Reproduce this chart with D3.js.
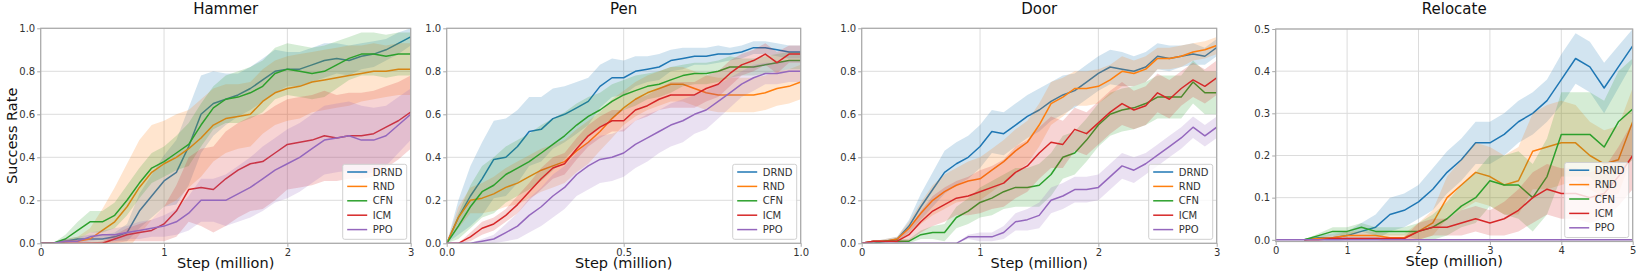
<!DOCTYPE html>
<html lang="en">
<head>
<meta charset="UTF-8">
<title>Success rate curves</title>
<script src="https://cdn.jsdelivr.net/npm/d3@7"></script>
<style>
  body { margin: 0; background: #fff; }
  svg { display: block; font-family: "DejaVu Sans", sans-serif; }
</style>
</head>
<body>
<svg id="chart" width="1641" height="279"></svg>
<script>
// methods, in plotting order
var methods = ["DRND", "RND", "CFN", "ICM", "PPO"];
var colors = ["#1f77b4", "#ff7f0e", "#2ca02c", "#d62728", "#9467bd"];

// ---- Hammer ----
var hammerSteps = [0,0.1,0.2,0.3,0.4,0.5,0.6,0.7,0.8,0.9,1,1.1,1.2,1.3,1.4,1.5,1.6,1.7,1.8,1.9,2,2.1,2.2,2.3,2.4,2.5,2.6,2.7,2.8,2.9,3];
var hammerMean = [
  [0,0,0.01,0.02,0.02,0.02,0.03,0.05,0.15,0.22,0.29,0.33,0.45,0.6,0.65,0.67,0.69,0.72,0.76,0.8,0.81,0.81,0.83,0.85,0.86,0.85,0.87,0.88,0.9,0.93,0.96],
  [0,0,0.01,0.01,0.02,0.06,0.1,0.17,0.26,0.33,0.37,0.4,0.44,0.49,0.55,0.58,0.59,0.6,0.66,0.7,0.72,0.73,0.75,0.76,0.77,0.78,0.79,0.8,0.8,0.81,0.81],
  [0,0,0.02,0.06,0.1,0.1,0.13,0.2,0.28,0.35,0.38,0.42,0.46,0.55,0.63,0.67,0.68,0.7,0.73,0.79,0.81,0.8,0.79,0.8,0.83,0.86,0.88,0.88,0.87,0.88,0.88],
  [0,0,0,0,0,0,0.02,0.04,0.05,0.06,0.09,0.15,0.25,0.26,0.25,0.3,0.34,0.37,0.38,0.42,0.46,0.47,0.48,0.5,0.49,0.5,0.5,0.51,0.54,0.57,0.61],
  [0,0,0.01,0.01,0.03,0.04,0.04,0.05,0.06,0.07,0.08,0.1,0.14,0.2,0.2,0.2,0.23,0.26,0.3,0.34,0.37,0.4,0.44,0.48,0.49,0.5,0.48,0.48,0.5,0.55,0.6]
];
var hammerSpread = [
  [0,0,0.01,0.01,0.02,0.02,0.02,0.04,0.08,0.1,0.12,0.15,0.18,0.18,0.15,0.12,0.1,0.1,0.1,0.1,0.08,0.08,0.08,0.08,0.07,0.07,0.06,0.06,0.05,0.05,0.04],
  [0,0,0.01,0.02,0.05,0.1,0.16,0.2,0.22,0.22,0.2,0.2,0.18,0.18,0.17,0.16,0.15,0.15,0.15,0.15,0.15,0.15,0.14,0.14,0.14,0.14,0.13,0.13,0.12,0.12,0.12],
  [0,0,0.02,0.04,0.05,0.05,0.06,0.07,0.07,0.07,0.07,0.08,0.1,0.1,0.1,0.11,0.12,0.12,0.12,0.12,0.12,0.12,0.12,0.12,0.11,0.1,0.1,0.1,0.1,0.1,0.1],
  [0,0,0,0,0,0.01,0.02,0.03,0.04,0.05,0.08,0.12,0.15,0.18,0.2,0.22,0.22,0.22,0.22,0.22,0.21,0.21,0.21,0.21,0.2,0.2,0.2,0.2,0.19,0.18,0.17],
  [0,0,0.01,0.01,0.02,0.02,0.03,0.03,0.04,0.04,0.05,0.06,0.08,0.1,0.1,0.12,0.13,0.14,0.15,0.15,0.16,0.16,0.16,0.16,0.16,0.16,0.16,0.15,0.14,0.13,0.12]
];

// ---- Pen ----
var penSteps = [0,0.033,0.067,0.1,0.133,0.167,0.2,0.233,0.267,0.3,0.333,0.367,0.4,0.433,0.467,0.5,0.533,0.567,0.6,0.633,0.667,0.7,0.733,0.767,0.8,0.833,0.867,0.9,0.933,0.967,1];
var penMean = [
  [0,0.12,0.22,0.3,0.39,0.4,0.45,0.52,0.53,0.58,0.6,0.63,0.66,0.73,0.77,0.77,0.8,0.81,0.82,0.85,0.86,0.87,0.87,0.88,0.88,0.89,0.91,0.91,0.9,0.89,0.89],
  [0,0.12,0.2,0.21,0.23,0.26,0.28,0.31,0.34,0.36,0.38,0.43,0.47,0.52,0.58,0.63,0.67,0.7,0.72,0.74,0.74,0.72,0.7,0.69,0.69,0.69,0.69,0.7,0.72,0.73,0.75],
  [0,0.08,0.17,0.24,0.27,0.32,0.35,0.38,0.42,0.46,0.5,0.55,0.59,0.62,0.66,0.69,0.71,0.73,0.74,0.76,0.78,0.79,0.79,0.8,0.82,0.82,0.82,0.83,0.84,0.85,0.85],
  [0,0,0.03,0.07,0.09,0.13,0.18,0.24,0.3,0.35,0.37,0.44,0.5,0.54,0.57,0.57,0.62,0.64,0.67,0.69,0.69,0.69,0.72,0.74,0.79,0.83,0.85,0.88,0.84,0.88,0.88],
  [0,0,0,0.01,0.02,0.05,0.08,0.13,0.17,0.22,0.26,0.32,0.36,0.39,0.4,0.42,0.46,0.49,0.52,0.55,0.57,0.6,0.62,0.66,0.7,0.74,0.77,0.79,0.79,0.8,0.8]
];
var penSpread = [
  [0,0.08,0.14,0.17,0.18,0.18,0.17,0.16,0.15,0.14,0.13,0.12,0.11,0.1,0.09,0.08,0.07,0.06,0.06,0.05,0.05,0.04,0.04,0.04,0.03,0.03,0.03,0.03,0.03,0.03,0.03],
  [0,0.05,0.06,0.07,0.08,0.09,0.1,0.1,0.1,0.1,0.1,0.1,0.1,0.09,0.09,0.08,0.08,0.08,0.08,0.08,0.08,0.08,0.08,0.08,0.08,0.08,0.08,0.08,0.08,0.08,0.08],
  [0,0.06,0.1,0.12,0.13,0.13,0.13,0.13,0.13,0.12,0.11,0.1,0.09,0.08,0.08,0.07,0.07,0.06,0.06,0.06,0.05,0.05,0.05,0.05,0.05,0.04,0.04,0.04,0.04,0.04,0.04],
  [0,0,0.02,0.03,0.03,0.03,0.04,0.04,0.05,0.05,0.05,0.05,0.05,0.05,0.05,0.05,0.05,0.05,0.05,0.06,0.06,0.06,0.06,0.06,0.06,0.05,0.05,0.05,0.05,0.04,0.04],
  [0,0,0,0.01,0.02,0.04,0.06,0.08,0.09,0.1,0.1,0.1,0.11,0.11,0.11,0.11,0.11,0.11,0.1,0.1,0.1,0.09,0.09,0.08,0.07,0.06,0.06,0.05,0.05,0.05,0.05]
];

// ---- Door ----
var doorSteps = hammerSteps.slice();
var doorMean = [
  [0,0.01,0.01,0.02,0.08,0.17,0.25,0.33,0.37,0.4,0.45,0.52,0.51,0.55,0.59,0.62,0.66,0.69,0.71,0.75,0.79,0.82,0.81,0.8,0.82,0.87,0.86,0.87,0.88,0.87,0.91],
  [0,0.01,0.01,0.02,0.07,0.14,0.2,0.24,0.27,0.29,0.3,0.34,0.38,0.43,0.47,0.55,0.65,0.68,0.72,0.72,0.73,0.76,0.8,0.79,0.81,0.86,0.86,0.87,0.89,0.9,0.92],
  [0,0,0.01,0.01,0.01,0.04,0.05,0.05,0.12,0.15,0.19,0.21,0.24,0.26,0.26,0.27,0.32,0.4,0.42,0.48,0.55,0.6,0.62,0.63,0.65,0.68,0.68,0.68,0.75,0.7,0.7],
  [0,0.01,0.01,0.01,0.04,0.1,0.15,0.18,0.21,0.22,0.24,0.26,0.28,0.33,0.36,0.42,0.47,0.46,0.53,0.51,0.56,0.61,0.65,0.62,0.64,0.7,0.67,0.72,0.76,0.73,0.77],
  [0,0,0,0,0,0,0,0,0,0.03,0.03,0.03,0.05,0.1,0.11,0.13,0.2,0.22,0.25,0.25,0.26,0.31,0.36,0.34,0.37,0.41,0.45,0.49,0.54,0.5,0.54]
];
var doorSpread = [
  [0,0,0.01,0.01,0.03,0.06,0.08,0.1,0.1,0.1,0.1,0.1,0.1,0.1,0.1,0.1,0.09,0.09,0.08,0.08,0.08,0.08,0.08,0.07,0.07,0.06,0.06,0.05,0.05,0.04,0.04],
  [0,0,0.01,0.01,0.03,0.05,0.07,0.08,0.08,0.09,0.1,0.1,0.1,0.1,0.1,0.1,0.1,0.09,0.08,0.08,0.08,0.07,0.07,0.06,0.06,0.05,0.05,0.05,0.04,0.04,0.04],
  [0,0,0,0.01,0.01,0.02,0.03,0.04,0.05,0.06,0.07,0.08,0.08,0.09,0.09,0.1,0.1,0.1,0.1,0.1,0.1,0.1,0.1,0.1,0.1,0.1,0.1,0.1,0.1,0.1,0.1],
  [0,0,0,0.01,0.03,0.05,0.07,0.08,0.08,0.09,0.1,0.1,0.11,0.12,0.12,0.12,0.12,0.11,0.1,0.1,0.1,0.1,0.1,0.09,0.09,0.09,0.09,0.08,0.08,0.08,0.08],
  [0,0,0,0,0,0,0,0,0,0.01,0.02,0.02,0.03,0.04,0.05,0.06,0.06,0.06,0.06,0.06,0.06,0.06,0.06,0.06,0.05,0.05,0.05,0.05,0.05,0.05,0.05]
];

// ---- Relocate ----
var relocateSteps = [0,0.2,0.4,0.6,0.8,1,1.2,1.4,1.6,1.8,2,2.2,2.4,2.6,2.8,3,3.2,3.4,3.6,3.8,4,4.2,4.4,4.6,4.8,5];
var relocateMean = [
  [null,null,0,0.005,0.005,0.01,0.02,0.03,0.06,0.07,0.09,0.12,0.16,0.19,0.23,0.23,0.25,0.28,0.3,0.33,0.38,0.43,0.41,0.36,0.41,0.46],
  [null,null,0,0.003,0.005,0.01,0.01,0.01,0.005,0.005,0.02,0.04,0.1,0.13,0.16,0.15,0.13,0.14,0.21,0.22,0.23,0.23,0.2,0.18,0.19,0.28],
  [null,null,0,0.01,0.02,0.02,0.03,0.02,0.02,0.02,0.02,0.03,0.05,0.08,0.1,0.14,0.13,0.13,0.1,0.15,0.25,0.25,0.25,0.22,0.28,0.31],
  [null,null,0,0,0.003,0.003,0.003,0.003,0.003,0.003,0.02,0.03,0.03,0.04,0.05,0.04,0.05,0.07,0.1,0.12,0.11,0.11,0.1,0.11,0.15,0.2],
  [0,0,0,0,0,0,0,0,0,0,0,0,0,0,0,0,0,0,0,0,0,0,0,0,0,0]
];
var relocateSpread = [
  [0,0,0,0.005,0.01,0.01,0.02,0.03,0.04,0.04,0.04,0.05,0.05,0.05,0.05,0.05,0.05,0.05,0.05,0.05,0.06,0.06,0.06,0.06,0.05,0.04],
  [0,0,0,0.003,0.005,0.01,0.01,0.01,0.01,0.01,0.02,0.03,0.05,0.06,0.07,0.07,0.07,0.08,0.09,0.1,0.1,0.09,0.08,0.08,0.08,0.08],
  [0,0,0,0.005,0.01,0.01,0.01,0.01,0.01,0.01,0.02,0.03,0.04,0.05,0.06,0.06,0.07,0.08,0.08,0.09,0.1,0.1,0.1,0.11,0.12,0.12],
  [0,0,0,0,0.003,0.003,0.003,0.003,0.003,0.003,0.02,0.02,0.02,0.03,0.03,0.03,0.04,0.05,0.06,0.06,0.06,0.06,0.06,0.06,0.07,0.08],
  [0,0,0,0,0,0,0,0,0,0,0,0,0,0,0,0,0,0,0,0,0,0,0,0,0,0]
];

// tick labels
var xTicks3 = [0, 1, 2, 3];
var xTicksPen = [0, 0.5, 1];
var xTicks5 = [0, 1, 2, 3, 4, 5];
var yTicks1 = [0, 0.2, 0.4, 0.6, 0.8, 1.0];
var yTicks05 = [0, 0.1, 0.2, 0.3, 0.4, 0.5];

var panels = [
  {title: "Hammer", steps: hammerSteps, mean: hammerMean, spread: hammerSpread,
   xDomain: [0, 3], yDomain: [0, 1], xTicks: xTicks3, xFmt: d3.format("d"), yTicks: yTicks1,
   box: [40.7, 410.7, 28.3, 243.3]},
  {title: "Pen", steps: penSteps, mean: penMean, spread: penSpread,
   xDomain: [0, 1], yDomain: [0, 1], xTicks: xTicksPen, xFmt: d3.format(".1f"), yTicks: yTicks1,
   box: [446.7, 800.7, 28.3, 243.3]},
  {title: "Door", steps: doorSteps, mean: doorMean, spread: doorSpread,
   xDomain: [0, 3], yDomain: [0, 1], xTicks: xTicks3, xFmt: d3.format("d"), yTicks: yTicks1,
   box: [861.7, 1216.7, 28.3, 243.3]},
  {title: "Relocate", steps: relocateSteps, mean: relocateMean, spread: relocateSpread,
   xDomain: [0, 5], yDomain: [-0.004, 0.5], xTicks: xTicks5, xFmt: d3.format("d"), yTicks: yTicks05,
   box: [1275.7, 1632.7, 29, 241.5]}
];

var svg = d3.select("#chart");
svg.append("rect").attr("width", 1641).attr("height", 279).attr("fill", "#fff");

panels.forEach(function(p, pi) {
  var left = p.box[0], right = p.box[1], top = p.box[2], bottom = p.box[3];
  var x = d3.scaleLinear().domain(p.xDomain).range([left, right]);
  var y = d3.scaleLinear().domain(p.yDomain).range([bottom, top]);
  var g = svg.append("g");

  var clipId = "clip" + pi;
  svg.append("clipPath").attr("id", clipId)
    .append("rect").attr("x", left).attr("y", top)
    .attr("width", right - left).attr("height", bottom - top);

  // grid
  g.selectAll(".gx").data(p.xTicks).join("line")
    .attr("x1", d => x(d)).attr("x2", d => x(d))
    .attr("y1", top).attr("y2", bottom)
    .attr("stroke", "#dcdcdc").attr("stroke-width", 1);
  g.selectAll(".gy").data(p.yTicks).join("line")
    .attr("y1", d => y(d)).attr("y2", d => y(d))
    .attr("x1", left).attr("x2", right)
    .attr("stroke", "#dcdcdc").attr("stroke-width", 1);

  var plot = g.append("g").attr("clip-path", "url(#" + clipId + ")");

  methods.forEach(function(m, mi) {
    var pts = p.steps.map(function(s, i) {
      return {x: s, m: p.mean[mi][i], s: p.spread[mi][i]};
    });
    var area = d3.area()
      .defined(d => d.m !== null)
      .x(d => x(d.x))
      .y0(d => y(d.m - d.s))
      .y1(d => y(d.m + d.s));
    var line = d3.line()
      .defined(d => d.m !== null)
      .x(d => x(d.x))
      .y(d => y(d.m));
    plot.append("path").datum(pts)
      .attr("d", area).attr("fill", colors[mi]).attr("fill-opacity", 0.2);
    plot.append("path").datum(pts)
      .attr("d", line).attr("fill", "none")
      .attr("stroke", colors[mi]).attr("stroke-width", 1.5)
      .attr("stroke-linejoin", "round");
  });

  // frame
  g.append("rect").attr("x", left).attr("y", top)
    .attr("width", right - left).attr("height", bottom - top)
    .attr("fill", "none").attr("stroke", "#a8a8a8").attr("stroke-width", 1.2);

  // axes
  var xAxis = g.append("g").attr("transform", "translate(0," + bottom + ")")
    .call(d3.axisBottom(x).tickValues(p.xTicks).tickFormat(p.xFmt).tickSize(3.5).tickPadding(2));
  var yAxis = g.append("g").attr("transform", "translate(" + left + ",0)")
    .call(d3.axisLeft(y).tickValues(p.yTicks).tickFormat(d3.format(".1f")).tickSize(3.5).tickPadding(2));
  [xAxis, yAxis].forEach(function(a) {
    a.select(".domain").remove();
    a.selectAll(".tick line").attr("stroke", "#a8a8a8");
    a.selectAll("text").attr("fill", "#333").attr("font-size", 10)
      .attr("font-family", "DejaVu Sans");
  });

  // title + x label
  g.append("text").attr("x", (left + right) / 2).attr("y", 13.5)
    .attr("text-anchor", "middle").attr("font-size", 15).attr("fill", "#111")
    .text(p.title);
  g.append("text").attr("x", (left + right) / 2).attr("y", bottom + 24.5)
    .attr("text-anchor", "middle").attr("font-size", 14.5).attr("fill", "#111")
    .text("Step (million)");

  // legend
  var lw = 64, lh = 75;
  var lx = right - 4 - lw, ly = bottom - 4 - lh;
  var leg = g.append("g");
  leg.append("rect").attr("x", lx).attr("y", ly).attr("width", lw).attr("height", lh)
    .attr("rx", 2).attr("fill", "#fff").attr("fill-opacity", 0.8)
    .attr("stroke", "#d0d0d0").attr("stroke-width", 1);
  methods.forEach(function(m, mi) {
    var cy = ly + 7.7 + mi * 14.4;
    leg.append("line").attr("x1", lx + 4.5).attr("x2", lx + 24.5)
      .attr("y1", cy).attr("y2", cy)
      .attr("stroke", colors[mi]).attr("stroke-width", 1.5);
    leg.append("text").attr("x", lx + 30).attr("y", cy + 3.6)
      .attr("font-size", 10).attr("fill", "#333").text(m);
  });
});

// shared y label
svg.append("text")
  .attr("transform", "translate(17,135.8) rotate(-90)")
  .attr("text-anchor", "middle").attr("font-size", 14.5).attr("fill", "#111")
  .text("Success Rate");
</script>
</body>
</html>
